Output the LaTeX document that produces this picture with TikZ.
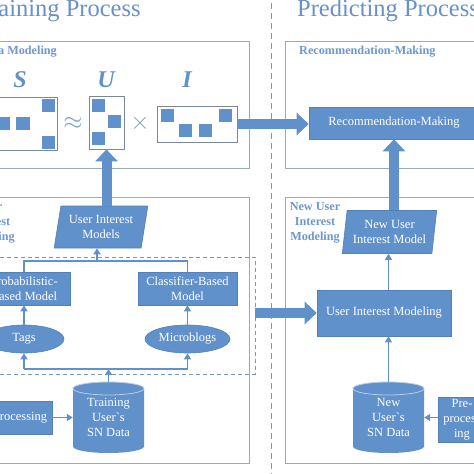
\documentclass[tikz,border=0pt]{standalone}
\usepackage{fontspec}
\setmainfont{Liberation Serif}
\usetikzlibrary{arrows.meta,shapes.geometric,calc}
\definecolor{boxblue}{RGB}{96,145,203}
\definecolor{boxedge}{RGB}{82,128,188}
\definecolor{headblue}{RGB}{108,152,208}
\definecolor{titleblue}{RGB}{105,145,200}
\definecolor{panelline}{RGB}{150,170,195}
\definecolor{dashline}{RGB}{120,150,190}
\definecolor{matline}{RGB}{120,135,155}
\definecolor{opblue}{RGB}{130,160,205}
\newcommand{\nf}{\fontsize{12.5}{15}\selectfont}
\newcommand{\hf}{\fontsize{12.2}{15}\selectfont\bfseries}
\begin{document}
\begin{tikzpicture}[x=1pt,y=-1pt,
  fillbox/.style={rectangle, fill=boxblue, draw=boxedge, line width=0.6pt, text=white, align=center, font=\nf, inner sep=0pt},
  ellbox/.style={ellipse, fill=boxblue, draw=boxedge, line width=0.6pt, text=white, align=center, font=\nf, inner sep=0pt},
  para/.style={trapezium, trapezium stretches=true, fill=boxblue, draw=boxedge, line width=0.6pt, text=white, align=center, font=\nf, inner sep=0pt},
  cyltext/.style={rectangle, text=white, align=center, font=\nf, inner sep=0pt, minimum width=71pt, minimum height=71pt},
  head/.style={text=headblue, font=\hf, inner sep=0pt, align=center},
  titletext/.style={text=titleblue, font=\fontsize{24.5}{28}\selectfont, inner sep=0pt, anchor=base west},
  panel/.style={draw=panelline, line width=1pt},
  sepdash/.style={draw=dashline, line width=0.9pt, dash pattern=on 6pt off 4pt},
  dashbox/.style={draw=dashline, line width=0.9pt, dash pattern=on 4pt off 3pt},
  matbox/.style={rectangle, draw=matline, line width=0.8pt, inner sep=0pt},
  sq/.style={fill=boxblue},
  letter/.style={text=boxblue, font=\fontsize{24}{26}\selectfont\bfseries\itshape, inner sep=0pt},
  opsym/.style={text=opblue, font=\fontsize{23}{26}\selectfont, inner sep=0pt},
  thinline/.style={draw=boxblue, line width=1.4pt},
  thinarrow/.style={draw=boxblue, line width=1.4pt, -{Triangle[length=6pt,width=7pt]}},
  bigarrow/.style={draw=boxblue, line width=10pt, -{Triangle[length=12pt,width=22pt]}},
  capline/.style={draw=white!55!boxblue, line width=0.8pt}
]
\clip (0,0) rectangle (474,474);
\fill[white] (0,0) rectangle (474,474);

% titles
\node[titletext] (t1) at (-24,16.5) {Training Process};
\node[titletext] (t2) at (297,16.5) {Predicting Process};

% separator
\draw[sepdash] (271,3) -- (271,474);

% panels
\draw[panel] (-40,41) rectangle (249,168);
\draw[panel] (285,41) rectangle (574,168);
\draw[panel] (-40,197) rectangle (249,463);
\draw[panel] (285,197) rectangle (574,463);

% panel headings
\node[head, anchor=base east] (h1) at (57,54) {Data Modeling};
\node[head, anchor=base west] (h2) at (299,54) {Recommendation-Making};
\node[head] (h3) at (-10,223.3) {User\\Interest\\Modeling};
\node[head] (h4) at (315,223.3) {New User\\Interest\\Modeling};

% matrices
\node[letter] (ls) at (20,80) {S};
\node[letter] (lu) at (106,80) {U};
\node[letter] (li) at (187,80) {I};
\node[matbox, minimum width=77pt, minimum height=53pt] (smat) at (18.5,123.5) {};
\node[matbox, minimum width=35pt, minimum height=53pt] (umat) at (106.5,122.5) {};
\node[matbox, minimum width=80pt, minimum height=36pt] (imat) at (197,124) {};
\fill[sq] (-3,117) rectangle ++(13,13);
\fill[sq] (16,117) rectangle ++(14,13);
\fill[sq] (42,99) rectangle ++(13,13);
\fill[sq] (42,136) rectangle ++(13,13);
\fill[sq] (92,99) rectangle ++(13,13);
\fill[sq] (108,115) rectangle ++(13,13);
\fill[sq] (92,132) rectangle ++(13,13);
\fill[sq] (161,109) rectangle ++(13,13);
\fill[sq] (179,124) rectangle ++(13,13);
\fill[sq] (199,124) rectangle ++(13,13);
\fill[sq] (219,109) rectangle ++(13,13);
\node[opsym] (apx) at (73,123) {$\approx$};
\node[opsym] (tms) at (140,123) {$\times$};

% right top
\node[fillbox, minimum width=170pt, minimum height=32pt] (rec) at (394,123) {Recommendation-Making};

% left bottom
\node[para, trapezium left angle=77, trapezium right angle=103, minimum width=94pt, minimum height=42pt] (uim) at (101,227) {User Interest\\Models};
\node[fillbox, minimum width=93pt, minimum height=33pt] (prob) at (24,288.5) {Probabilistic-\\Based Model};
\node[fillbox, minimum width=99pt, minimum height=33pt] (cls) at (187.5,288.5) {Classifier-Based\\Model};
\node[ellbox, minimum width=80pt, minimum height=28pt] (tags) at (24,339) {Tags};
\node[ellbox, minimum width=85pt, minimum height=28pt] (micro) at (187.5,339) {Microblogs};
\node[fillbox, minimum width=84pt, minimum height=33pt] (ppl) at (10,417.5) {Pre-processing};
% training cylinder
\fill[boxblue] (73,388.5) -- (73,446.5) arc[start angle=180, end angle=360, x radius=35.5pt, y radius=6.5pt] -- (144,388.5) arc[start angle=0, end angle=180, x radius=35.5pt, y radius=6.5pt] -- cycle;
\draw[capline] (108.5,388.5) ellipse[x radius=35.5pt, y radius=6.5pt];
\node[cyltext] (tsn) at (108.5,417.5) {Training\\User\textasciigrave s\\SN Data};

\draw[dashbox] (-30,257) rectangle (255,374);

% right bottom
\node[para, trapezium left angle=80, trapezium right angle=100, minimum width=95pt, minimum height=43pt] (nuim) at (389.5,232) {New User\\Interest Model};
\node[fillbox, minimum width=134pt, minimum height=46pt] (uimod) at (384,313) {User Interest Modeling};
\fill[boxblue] (353,388.5) -- (353,446.5) arc[start angle=180, end angle=360, x radius=35.5pt, y radius=6.5pt] -- (424,388.5) arc[start angle=0, end angle=180, x radius=35.5pt, y radius=6.5pt] -- cycle;
\draw[capline] (388.5,388.5) ellipse[x radius=35.5pt, y radius=6.5pt];
\node[cyltext] (nsn) at (388.5,417.5) {New\\User\textasciigrave s\\SN Data};
\node[fillbox, minimum width=48pt, minimum height=45pt] (ppr) at (462,419.5) {Pre-\\process\\ing};

% big arrows
\draw[bigarrow] (imat.east) -- (imat.east -| rec.west);
\draw[bigarrow] (umat.south |- uim.north) -- (umat.south);
\draw[bigarrow] (rec.south |- nuim.north) -- (rec.south);
\coordinate (dre) at (255,313);
\draw[bigarrow] (dre) -- (dre -| uimod.west);

% thin connectors, left
\coordinate (j1) at (97,261);
\coordinate (j2) at (108.5,369);
\draw[thinline] (prob.north) |- (j1) -| (cls.north);
\draw[thinarrow] (j1) -- (j1 |- uim.south);
\draw[thinarrow] (tags.north) -- (prob.south);
\draw[thinarrow] (micro.north) -- (cls.south);
\draw[thinline] (tags.south |- j2) -- (micro.south |- j2);
\draw[thinarrow] (tsn.north) -- (j2);
\draw[thinarrow] (tags.south |- j2) -- (tags.south);
\draw[thinarrow] (micro.south |- j2) -- (micro.south);
\draw[thinarrow] (ppl.east) -- (ppl.east -| tsn.west);

% thin connectors, right
\draw[thinarrow] (nsn.north) -- (nsn.north |- uimod.south);
\draw[thinarrow] (nsn.north |- uimod.north) -- (nsn.north |- nuim.south);
\draw[thinarrow] (ppr.west |- nsn.east) -- (nsn.east);
\end{tikzpicture}
\end{document}
